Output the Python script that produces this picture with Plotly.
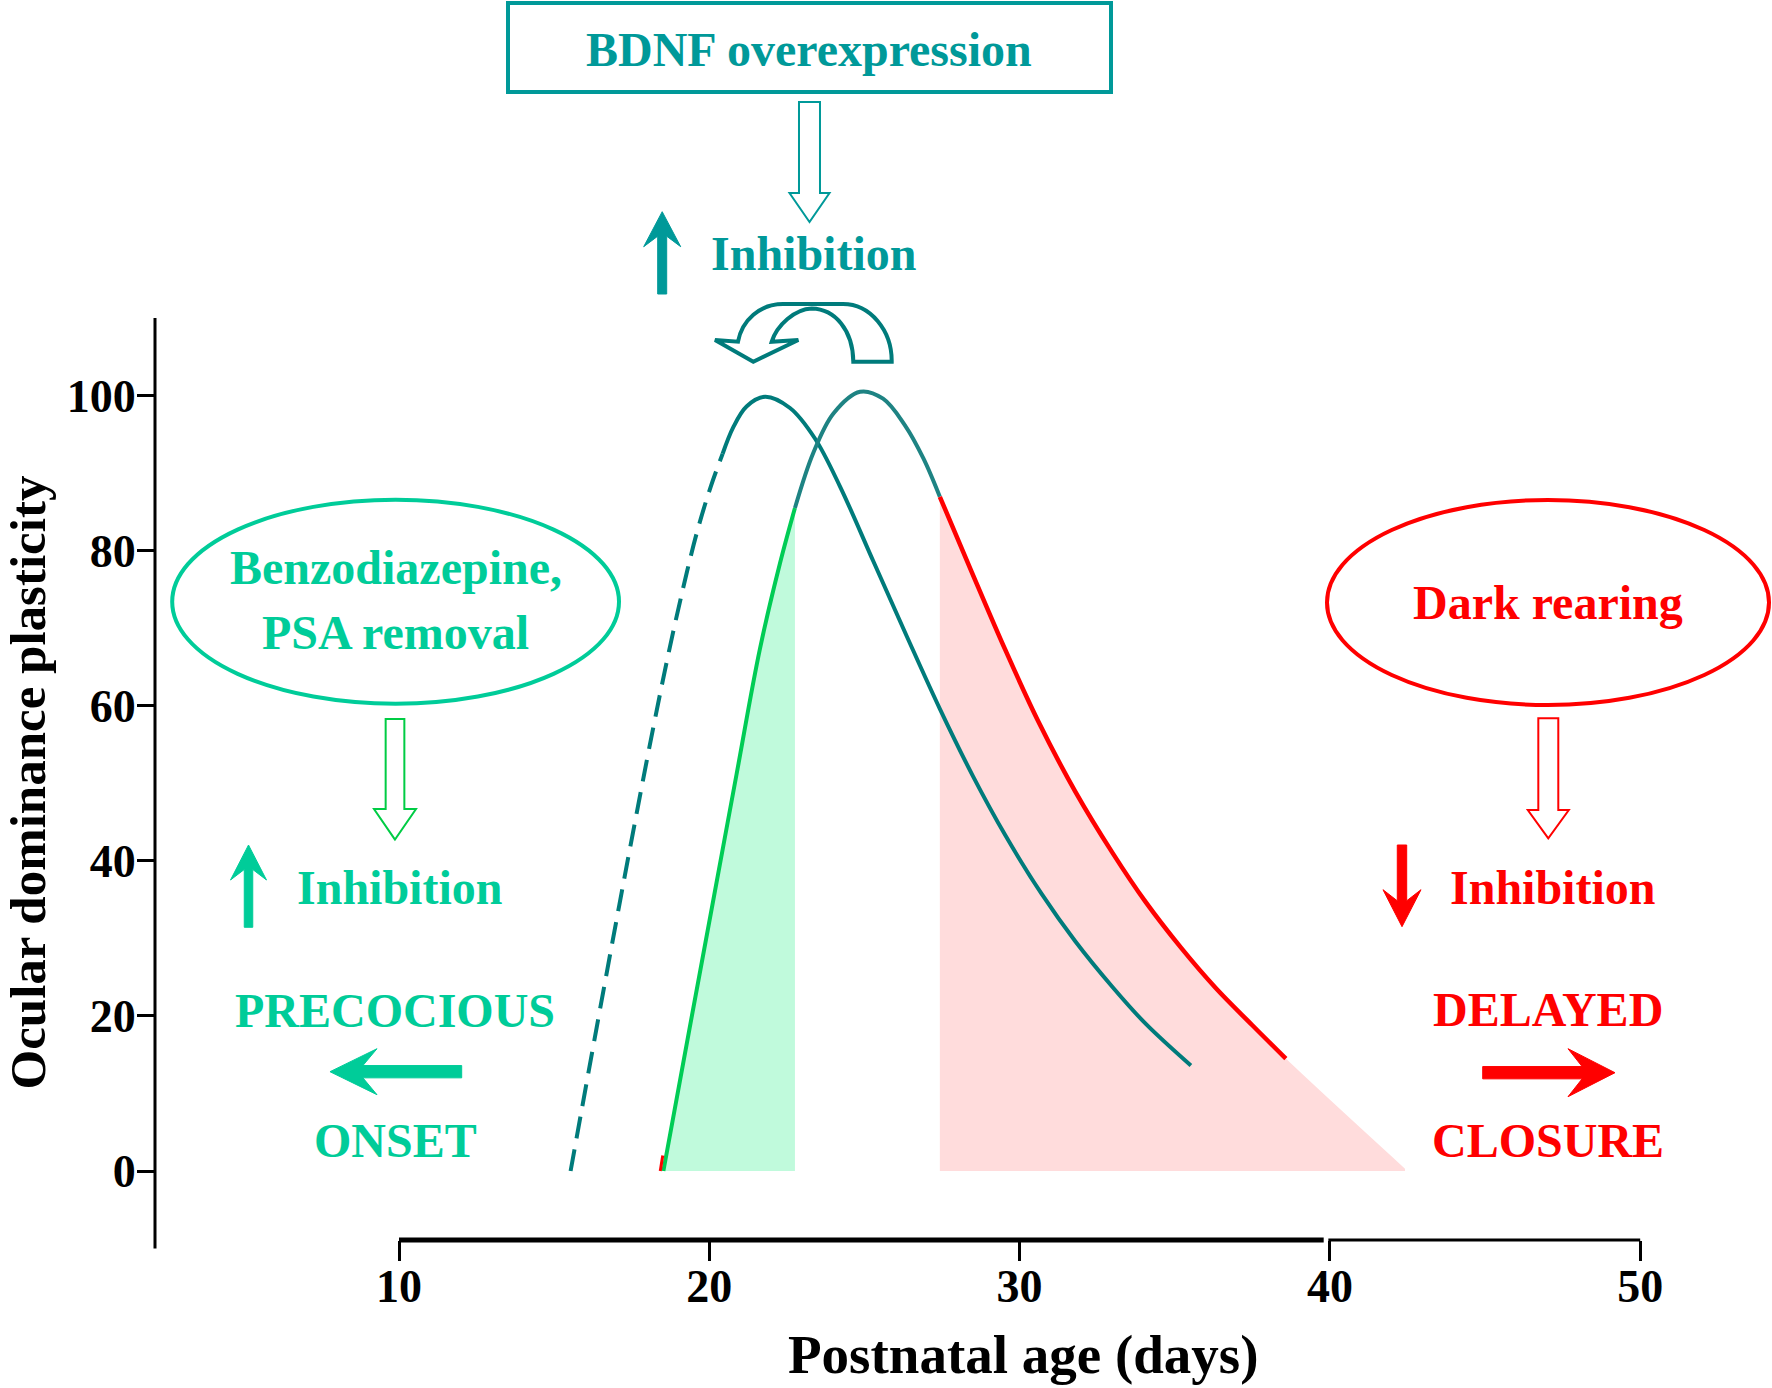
import math
import plotly.graph_objects as go

W, H = 1772, 1388

# ---- curve data (postnatal day, ocular dominance plasticity) ----
# precocious curve (shifted earlier): dashed rising part, then solid
early_dash_x = [15.53, 16.37, 17.10, 17.7, 18.2, 18.63, 19.06, 19.59, 20.05, 20.43]
early_dash_y = [0, 18.5, 34.3, 47.0, 57.3, 65.7, 73.5, 82.2, 88.3, 92.5]
early_x = [20.43, 20.77, 21.2, 21.8, 22.6, 23.4, 24.21, 25.29, 26.36, 27.43, 28.5, 29.54, 30.7,
           31.8, 33.0, 34.06, 35.52]
early_y = [92.5, 95.9, 98.6, 99.85, 98.4, 94.5, 88.3, 78.6, 69.0, 59.6, 50.9, 43.3, 35.8,
           29.6, 23.7, 19.0, 13.6]

# normal curve: green onset, teal peak, red closure
onset_x = [18.52, 19.36, 20.16, 20.88, 21.63, 22.28, 22.76]
onset_y = [0, 18.3, 35.6, 51.2, 67.3, 78.4, 85.5]
peak_x = [22.76, 23.35, 24.0, 24.86, 25.6, 26.3, 26.9, 27.43]
peak_y = [85.5, 92.6, 97.7, 100.5, 99.6, 96.2, 91.9, 86.95]
closure_x = [27.43, 28.41, 29.54, 30.6, 31.8, 33.0, 34.06, 35.2, 36.32, 37.5, 38.58]
closure_y = [86.95, 77.7, 67.2, 58.0, 48.9, 41.0, 34.7, 28.8, 23.6, 18.8, 14.5]
stub_x = [18.42, 18.5]
stub_y = [0, 2.0]

# shaded windows (filled down to zero)
closure_fill_x = closure_x + [42.42]
closure_fill_y = closure_y + [0.3]

x_ticks = [10, 20, 30, 40, 50]
y_ticks = [0, 20, 40, 60, 80, 100]

TEAL = "#007B7B"
TEAL_TXT = "#009999"
MINT = "#00CC99"
GREEN = "#00CC55"
GREEN_OUT = "#00CC44"
RED = "#FF0000"
FONT = "Liberation Serif"

# pixel placement of the axes inside the picture
X10_PX, PX_PER_DAY = 399, 31.03
Y0_PX, PX_PER_UNIT = 1171, 7.754
x_range = [10 - X10_PX / PX_PER_DAY, 10 + (W - X10_PX) / PX_PER_DAY]
y_range = [-(H - Y0_PX) / PX_PER_UNIT, Y0_PX / PX_PER_UNIT]
y_xline = (Y0_PX - 1240) / PX_PER_UNIT
x_yline = 10 + (155 - X10_PX) / PX_PER_DAY


def px(x):
    return x / W


def py(y):
    return 1 - y / H


def P(x, y):
    return "%.5f,%.5f" % (px(x), py(y))


def poly_path(pts):
    return "M " + " L ".join(P(x, y) for x, y in pts) + " Z"


def arrow_pts(tail, tip, sw, hl, hw, stealth=0.0):
    dx, dy = tip[0] - tail[0], tip[1] - tail[1]
    ln = math.hypot(dx, dy)
    ux, uy = dx / ln, dy / ln
    nx, ny = -uy, ux
    bx, by = tip[0] - ux * hl, tip[1] - uy * hl
    kx, ky = tip[0] - ux * hl * (1 - stealth), tip[1] - uy * hl * (1 - stealth)
    h = sw / 2
    return [tip,
            (bx + nx * hw, by + ny * hw),
            (kx + nx * h, ky + ny * h),
            (tail[0] + nx * h, tail[1] + ny * h),
            (tail[0] - nx * h, tail[1] - ny * h),
            (kx - nx * h, ky - ny * h),
            (bx - nx * hw, by - ny * hw)]


fig = go.Figure()

fig.add_trace(go.Scatter(x=closure_fill_x, y=closure_fill_y, fill="tozeroy", fillcolor="#FFDCDC",
                         mode="lines", line=dict(width=0, shape="spline"), hoverinfo="skip"))
fig.add_trace(go.Scatter(x=onset_x, y=onset_y, fill="tozeroy", fillcolor="#C0FADC",
                         mode="lines", line=dict(width=0, shape="spline"), hoverinfo="skip"))
fig.add_trace(go.Scatter(x=early_dash_x, y=early_dash_y, mode="lines",
                         line=dict(color=TEAL, width=4, dash="22px,11px", shape="spline")))
fig.add_trace(go.Scatter(x=early_x, y=early_y, mode="lines",
                         line=dict(color=TEAL, width=4, shape="spline")))
fig.add_trace(go.Scatter(x=onset_x, y=onset_y, mode="lines",
                         line=dict(color=GREEN, width=4, shape="spline")))
fig.add_trace(go.Scatter(x=peak_x, y=peak_y, mode="lines",
                         line=dict(color="#1E8383", width=4, shape="spline")))
fig.add_trace(go.Scatter(x=closure_x, y=closure_y, mode="lines",
                         line=dict(color=RED, width=4.5, shape="spline")))
fig.add_trace(go.Scatter(x=stub_x, y=stub_y, mode="lines", line=dict(color=RED, width=3)))

shapes = []
# axis lines
shapes.append(dict(type="line", xref="x", yref="y", x0=10, x1=39.8, y0=y_xline, y1=y_xline,
                   line=dict(color="black", width=5)))
shapes.append(dict(type="line", xref="x", yref="y", x0=39.95, x1=50, y0=y_xline, y1=y_xline,
                   line=dict(color="black", width=3)))
shapes.append(dict(type="line", xref="x", yref="y", x0=x_yline, x1=x_yline, y0=-10, y1=110,
                   line=dict(color="black", width=3)))

# BDNF box
shapes.append(dict(type="rect", xref="paper", yref="paper", x0=px(508), x1=px(1111),
                   y0=py(92), y1=py(3), line=dict(color=TEAL_TXT, width=4)))

# ellipses
for cx, cy, rx, ry, col in [(395.6, 601.7, 223.4, 102, MINT), (1548, 602.5, 221, 102.5, RED)]:
    shapes.append(dict(type="circle", xref="paper", yref="paper", x0=px(cx - rx), x1=px(cx + rx),
                       y0=py(cy + ry), y1=py(cy - ry), line=dict(color=col, width=4)))

# hollow arrows
for tail, tip, sw, hl, hw, col in [((809.5, 102), (809.5, 222), 21, 29, 20, TEAL_TXT),
                                   ((395, 719), (395, 839.6), 18.7, 30.6, 21, GREEN_OUT),
                                   ((1548.3, 718.3), (1548.3, 838.3), 20, 28.3, 20.5, RED)]:
    shapes.append(dict(type="path", xref="paper", yref="paper",
                       path=poly_path(arrow_pts(tail, tip, sw, hl, hw)),
                       line=dict(color=col, width=2), fillcolor="white"))

# solid arrows
for tail, tip, sw, hl, hw, col in [((662.2, 294), (662.2, 211.7), 9, 35, 18.5, TEAL_TXT),
                                   ((248.5, 927.3), (248.5, 845), 8.5, 35, 18, MINT),
                                   ((1402, 845), (1402, 926.7), 9.4, 37, 19, RED),
                                   ((461.7, 1071.7), (330, 1071.7), 12.3, 47, 23, MINT),
                                   ((1482.7, 1072.7), (1615, 1072.7), 12.3, 47, 24, RED)]:
    shapes.append(dict(type="path", xref="paper", yref="paper",
                       path=poly_path(arrow_pts(tail, tip, sw, hl, hw, stealth=0.3)),
                       line=dict(color=col, width=1), fillcolor=col))

# curved U-turn arrow
curl = ("M " + P(891.7, 361.7) + " C " + P(892, 330) + " " + P(870, 304) + " " + P(843, 304)
        + " L " + P(783, 304) + " C " + P(760, 304) + " " + P(742, 320) + " " + P(738, 341.7)
        + " L " + P(715, 340) + " L " + P(753.3, 361.7) + " L " + P(798.3, 340)
        + " L " + P(771.7, 341.7) + " C " + P(777, 325) + " " + P(795, 309) + " " + P(811.7, 308.5)
        + " C " + P(835, 309) + " " + P(853, 330) + " " + P(853.3, 361.7) + " Z")
shapes.append(dict(type="path", xref="paper", yref="paper", path=curl,
                   line=dict(color=TEAL, width=4), fillcolor="white"))

labels = [
    ("BDNF overexpression", 808.5, 49, TEAL_TXT),
    ("Inhibition", 813, 253, TEAL_TXT),
    ("Benzodiazepine,", 396, 567, MINT),
    ("PSA removal", 395.5, 632, MINT),
    ("Inhibition", 399, 887.5, MINT),
    ("PRECOCIOUS", 394.5, 1010, MINT),
    ("ONSET", 395.8, 1140, MINT),
    ("Dark rearing", 1548, 602.5, RED),
    ("Inhibition", 1552.5, 887.5, RED),
    ("DELAYED", 1547.5, 1009, RED),
    ("CLOSURE", 1548, 1140, RED),
]
annotations = []
for text, x, y, col in labels:
    annotations.append(dict(text=text, x=px(x), y=py(y), xref="paper", yref="paper",
                            xanchor="center", yanchor="middle", showarrow=False,
                            font=dict(family=FONT, size=48, color=col, weight="bold")))
annotations.append(dict(text="Postnatal age (days)", x=px(1024), y=py(1354), xref="paper", yref="paper",
                        xanchor="center", yanchor="middle", showarrow=False,
                        font=dict(family=FONT, size=55, color="black", weight="bold")))
annotations.append(dict(text="Ocular dominance plasticity", x=px(27), y=py(782.5), xref="paper",
                        yref="paper", xanchor="center", yanchor="middle", showarrow=False, textangle=-90,
                        font=dict(family=FONT, size=51, color="black", weight="bold")))

fig.update_layout(
    width=W, height=H,
    margin=dict(l=0, r=0, t=0, b=0),
    paper_bgcolor="white", plot_bgcolor="white",
    showlegend=False,
    shapes=shapes,
    annotations=annotations,
    xaxis=dict(range=x_range, domain=[0, 1], anchor="free", position=py(1240),
               showline=False, showgrid=False, zeroline=False,
               tickvals=x_ticks, ticks="outside", ticklen=20, tickwidth=3, tickcolor="black",
               ticklabelstandoff=-14,
               tickfont=dict(family=FONT, size=46, color="black", weight="bold"), automargin=False),
    yaxis=dict(range=y_range, domain=[0, 1], anchor="free", position=px(155),
               showline=False, showgrid=False, zeroline=False,
               tickvals=y_ticks, ticks="outside", ticklen=18, tickwidth=3, tickcolor="black",
               ticklabelstandoff=-8,
               tickfont=dict(family=FONT, size=46, color="black", weight="bold"), automargin=False),
)

fig.write_html("out.html", config={"displayModeBar": False},
               post_script="document.body.style.margin = '0px';")
